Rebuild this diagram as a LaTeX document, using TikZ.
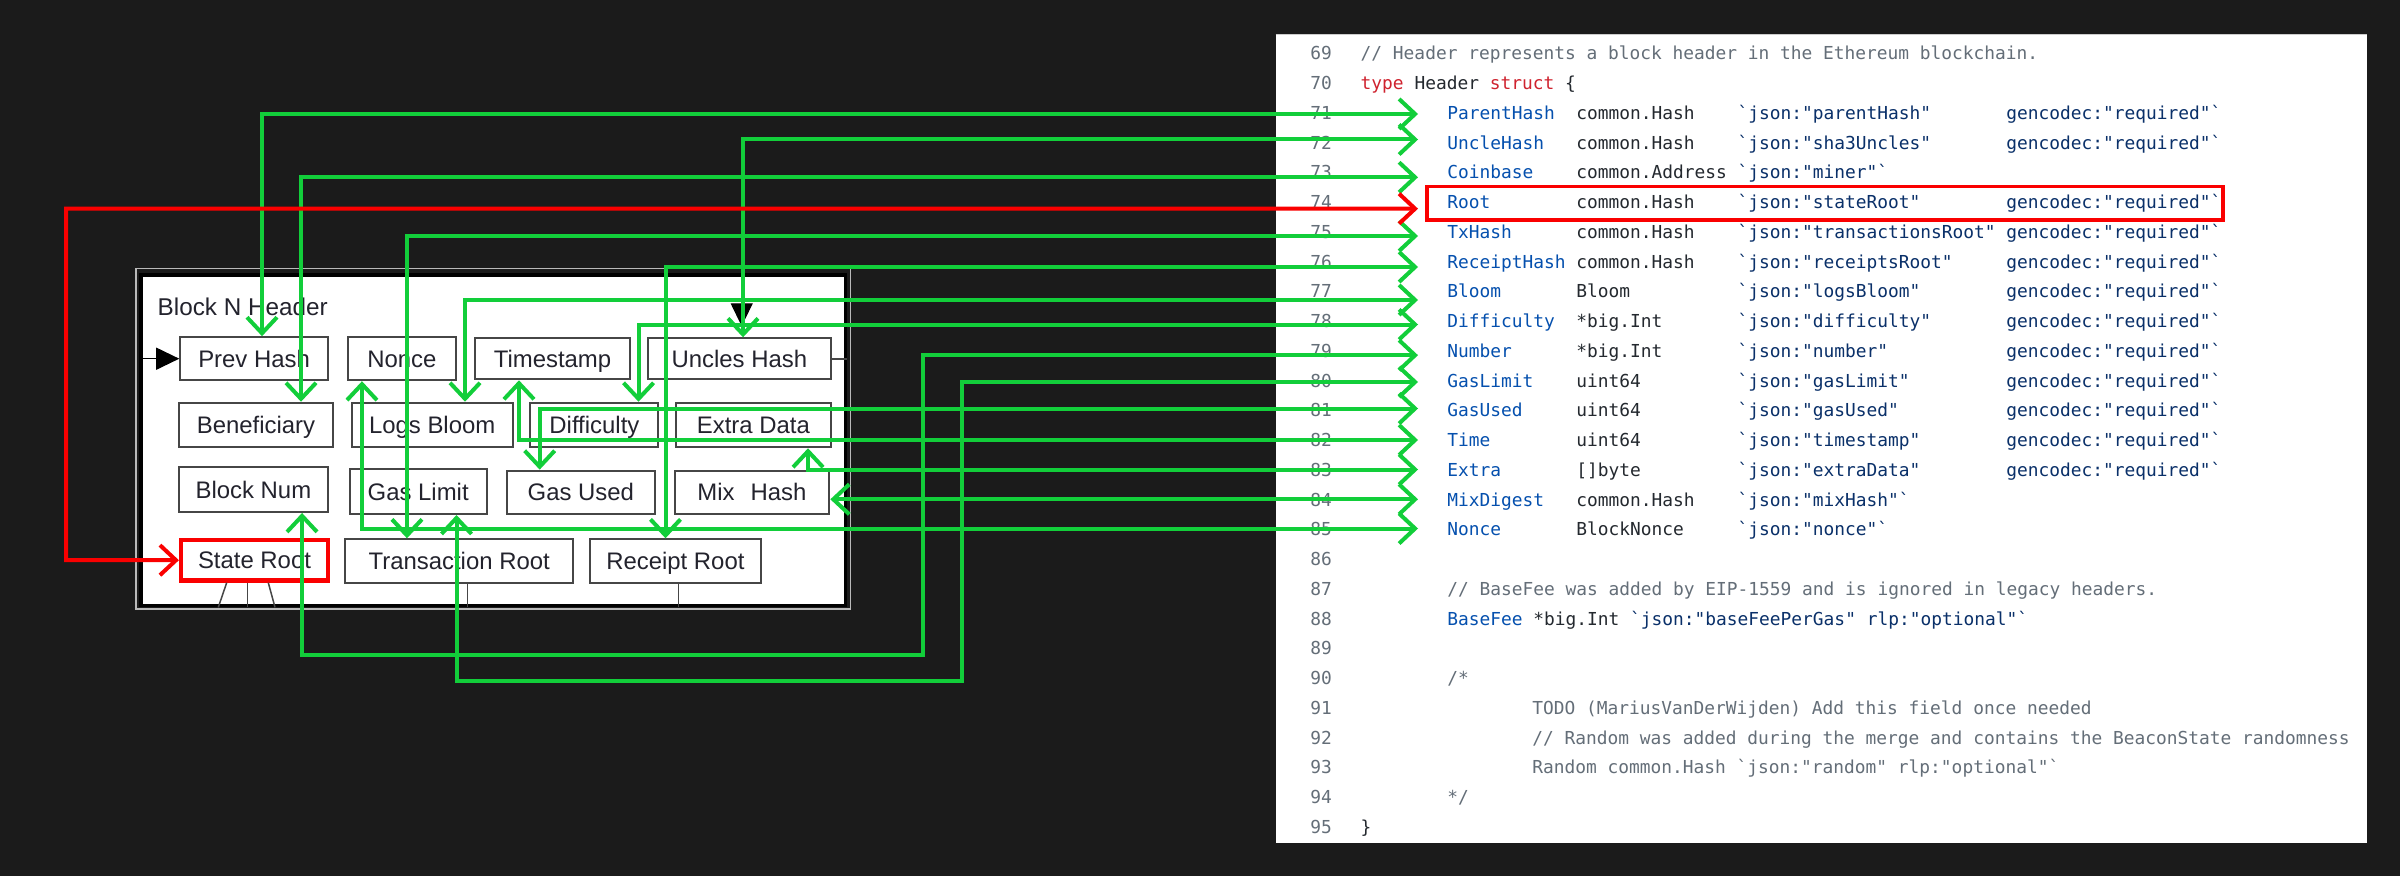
\documentclass[tikz,border=0pt]{standalone}
\usepackage{fontspec}
\setmainfont{Liberation Sans}
\setmonofont{DejaVu Sans Mono}
\usepackage{tikz}
\usetikzlibrary{arrows.meta, positioning, calc}
\definecolor{bgdark}{RGB}{27,27,27}
\definecolor{linkgreen}{RGB}{18,206,58}
\definecolor{hlred}{RGB}{250,0,0}
\definecolor{boxline}{RGB}{70,70,70}
\definecolor{labelink}{RGB}{35,35,45}
\definecolor{lnum}{RGB}{100,110,120}
\definecolor{comment}{RGB}{100,110,120}
\definecolor{kwred}{RGB}{207,34,46}
\definecolor{fieldblue}{RGB}{5,80,174}
\definecolor{codeink}{RGB}{36,41,47}
\definecolor{tagnavy}{RGB}{10,48,105}

\begin{document}
\begin{tikzpicture}[x=0.01cm, y=-0.01cm,
        box/.style={rectangle, draw=boxline, line width=0.02cm, fill=white, inner sep=0pt, text=labelink, font=\fontsize{6.8}{8}\selectfont, text height=0.17cm, text depth=0cm},
        code/.style={font=\ttfamily\fontsize{5.08}{6}\selectfont, inner sep=0pt, anchor=base west, text=codeink},
        link/.style={draw=linkgreen, line width=0.04cm, >={Straight Barb[length=0.16cm, width=0.3cm]}, <->},
        rlink/.style={link, draw=hlred},
        feed/.style={draw=black, line width=0.012cm, -{Triangle[length=0.23cm, width=0.22cm]}},
        stem/.style={draw=boxline, line width=0.015cm},
    ]
        \fill[bgdark] (0,0) rectangle (2400,876);
        \useasboundingbox (0,0) rectangle (2400,876);

        % Block N header frame
        \draw[gray!55, line width=0.015cm] (136,268.5) rectangle (850.5,609);
        \node[draw=black, line width=0.035cm, fill=white, minimum width=7.045cm, minimum height=3.305cm, inner sep=0pt] (blk) at (493.25,440.25) {};
        \node[anchor=west, inner sep=0pt, text=labelink, font=\fontsize{6.9}{8}\selectfont] (title) at (157,306.7) {Block N Header};

        % Header fields
        \node[box, minimum width=1.476cm, minimum height=0.43cm]  (prev)   at (254.1,358.7) {Prev Hash};
        \node[box, minimum width=1.08cm,  minimum height=0.43cm]  (nonce)  at (401.9,358.7) {Nonce};
        \node[box, minimum width=1.54cm,  minimum height=0.41cm]  (tstamp) at (552.5,358.8) {Timestamp};
        \node[box, minimum width=1.833cm, minimum height=0.41cm]  (uncles) at (739.4,358.8) {Uncles Hash};
        \node[box, minimum width=1.54cm,  minimum height=0.445cm] (benef)  at (256,425) {Beneficiary};
        \node[box, minimum width=1.61cm,  minimum height=0.445cm] (logs)   at (432.2,425) {Logs Bloom};
        \node[box, minimum width=1.28cm,  minimum height=0.445cm] (diff)   at (594.4,425) {Difficulty};
        \node[box, minimum width=1.545cm, minimum height=0.445cm] (extra)  at (753.4,425) {Extra Data};
        \node[box, minimum width=1.49cm,  minimum height=0.445cm] (bnum)   at (253.4,489.7) {Block Num};
        \node[box, minimum width=1.37cm,  minimum height=0.45cm]  (glimit) at (418.2,491.5) {Gas Limit};
        \node[box, minimum width=1.485cm, minimum height=0.433cm] (gused)  at (580.9,492.3) {Gas Used};
        \node[box, minimum width=1.546cm, minimum height=0.433cm] (mix)    at (752,492.3) {Mix\hspace{0.16cm}Hash};
        \node[box, draw=hlred, line width=0.045cm, minimum width=1.466cm, minimum height=0.405cm] (sroot) at (254.5,560.2) {State Root};
        \node[box, minimum width=2.28cm,  minimum height=0.44cm]  (txroot) at (459.2,561.3) {Transaction Root};
        \node[box, minimum width=1.708cm, minimum height=0.44cm]  (rcroot) at (675.4,561.3) {Receipt Root};

        % links inside the block
        \draw[feed] (blk.west |- prev.west) -- (prev.west);
        \draw[feed, dashed] ([xshift=0.023cm]uncles.north |- blk.north) -- ([xshift=0.023cm, yshift=0.11cm]uncles.north);
        \draw[stem] (uncles.east) -- (uncles.east -| blk.east);
        \draw[stem] ([xshift=-0.278cm]sroot.south) -- ([xshift=-0.362cm]sroot.south |- blk.south);
        \draw[stem] ([xshift=-0.072cm]sroot.south) -- ([xshift=-0.072cm]sroot.south |- blk.south);
        \draw[stem] ([xshift=0.138cm]sroot.south) -- ([xshift=0.205cm]sroot.south |- blk.south);
        \draw[stem] ([xshift=0.081cm]txroot.south) -- ([xshift=0.081cm]txroot.south |- blk.south);
        \draw[stem] ([xshift=0.03cm]rcroot.south) -- ([xshift=0.03cm]rcroot.south |- blk.south);

        % Go source panel
        \fill[white] (1275.5,35) rectangle (2367,843);
        \draw[gray!40, line width=0.01cm] (1275.5,35) -- (2367,35);
        \foreach \n in {69,...,95}
            \node[code, text=lnum] (ln\n) at (1309.6,{59.8+(\n-69)*29.75}) {\n};

        \node[code, text=comment] (c69) at (1360,59.8) {// Header represents a block header in the Ethereum blockchain.};
        \node[code] (c70) at (1360,89.55) {\textcolor{kwred}{type} Header \textcolor{kwred}{struct} \{};

        \foreach \n/\fld/\typ/\tg in {71/ParentHash/common.Hash/parentHash, 72/UncleHash/common.Hash/sha3Uncles, 74/Root/common.Hash/stateRoot, 75/TxHash/common.Hash/transactionsRoot, 76/ReceiptHash/common.Hash/receiptsRoot, 77/Bloom/Bloom/logsBloom, 78/Difficulty/*big.Int/difficulty, 79/Number/*big.Int/number, 80/GasLimit/uint64/gasLimit, 81/GasUsed/uint64/gasUsed, 82/Time/uint64/timestamp, 83/Extra/[]byte/extraData}{
            \node[code, text=fieldblue] (f\n) at (1446.6,{59.8+(\n-69)*29.75}) {\fld};
            \node[code] (ty\n) at (1575.6,{59.8+(\n-69)*29.75}) {\typ};
            \node[code, text=tagnavy] (j\n) at (1736.9,{59.8+(\n-69)*29.75}) {`json:"\tg"};
            \node[code, text=tagnavy] (g\n) at (2005.6,{59.8+(\n-69)*29.75}) {gencodec:"required"`};
        }
        \foreach \n/\fld/\typ/\tg in {73/Coinbase/common.Address/miner, 84/MixDigest/common.Hash/mixHash, 85/Nonce/BlockNonce/nonce}{
            \node[code, text=fieldblue] (f\n) at (1446.6,{59.8+(\n-69)*29.75}) {\fld};
            \node[code] (ty\n) at (1575.6,{59.8+(\n-69)*29.75}) {\typ};
            \node[code, text=tagnavy] (j\n) at (1736.9,{59.8+(\n-69)*29.75}) {`json:"\tg"`};
        }

        \node[code, text=comment] (c87) at (1446.6,595.3) {// BaseFee was added by EIP-1559 and is ignored in legacy headers.};
        \node[code] (c88) at (1446.6,625.05) {\textcolor{fieldblue}{BaseFee} *big.Int \textcolor{tagnavy}{`json:"baseFeePerGas" rlp:"optional"`}};
        \node[code, text=comment] (c90) at (1446.6,684.55) {/*};
        \node[code, text=comment] (c91) at (1531.6,714.3) {TODO (MariusVanDerWijden) Add this field once needed};
        \node[code, text=comment] (c92) at (1531.6,744.05) {// Random was added during the merge and contains the BeaconState randomness};
        \node[code, text=comment] (c93) at (1531.6,773.8) {Random common.Hash `json:"random" rlp:"optional"`};
        \node[code, text=comment] (c94) at (1446.6,803.55) {*/};
        \node[code] (c95) at (1360,833.3) {\}};

        % Root line highlight
        \draw[hlred, line width=0.035cm] (1427,186.7) rectangle (2223,220);

        % ends of the links at the source lines
        \foreach \n/\y in {71/114, 72/139.5, 73/177.3, 74/208.7, 75/236, 76/267, 77/300, 78/324.5, 79/355.2, 80/382, 81/408.5, 82/440, 83/469.5, 84/499.3, 85/528.5}
            \coordinate (t\n) at (1418,\y);

        \foreach \n/\bx/\s/\side in {71/prev/0.079/north, 72/uncles/0.036/north, 73/benef/0.45/north, 75/txroot/-0.522/north, 76/rcroot/-0.099/north, 77/logs/0.328/north, 78/diff/0.441/north, 81/gused/-0.412/north, 82/tstamp/-0.335/south, 83/extra/0.546/south, 85/nonce/-0.399/south}
            \draw[link] (t\n) -| ([xshift=\s cm]\bx.\side);
        \draw[link] (t79) -| (923,655) -| ([xshift=0.486cm]bnum.south);
        \draw[link] (t80) -| (961.7,680.5) -| ([xshift=0.383cm]glimit.south);
        \draw[link] (t84) -- (t84 -| mix.east);
        \draw[rlink] (t74) -| (66,560) -- (sroot.west);
    \end{tikzpicture}
\end{document}
